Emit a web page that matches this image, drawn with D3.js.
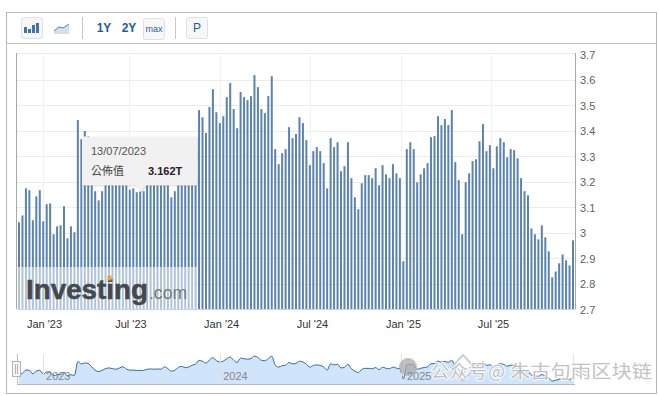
<!DOCTYPE html>
<html>
<head>
<meta charset="utf-8">
<script src="https://cdn.jsdelivr.net/npm/d3@7"></script>
<style>
  html, body { margin: 0; padding: 0; background: #fff; }
  svg { display: block; font-family: "Liberation Sans", Arial, sans-serif; }
</style>
</head>
<body>
<div id="chart"></div>
<script>
// weekly values, the ones behind the tooltip are estimated from the small chart
const values2023 = [3.042, 3.069, 3.175, 3.168, 3.05, 3.144, 3.168, 3.046, 3.113, 3.116, 2.995, 3.026, 3.03, 3.105, 2.979, 3.026, 3.003,
  3.443, 3.368, 3.40, 3.38, 3.28, 3.164, 3.128, 3.164, 3.22, 3.24, 3.22, 3.20, 3.24, 3.28, 3.21, 3.17, 3.175, 3.16, 3.162, 3.164,
  3.20, 3.21, 3.20, 3.21, 3.20, 3.28, 3.22, 3.14, 3.164, 3.26, 3.29, 3.25, 3.27, 3.33, 3.36, 3.482];
const values2024 = [3.454, 3.392, 3.494, 3.564, 3.474, 3.431, 3.458, 3.533, 3.588, 3.486, 3.411, 3.553, 3.533, 3.521, 3.537, 3.619, 3.572,
  3.486, 3.470, 3.537, 3.615, 3.329, 3.270, 3.313, 3.329, 3.415, 3.372, 3.388, 3.454, 3.431, 3.364, 3.266, 3.321, 3.337, 3.321, 3.274,
  3.175, 3.372, 3.337, 3.356, 3.242, 3.262, 3.356, 3.215, 3.140, 3.093, 3.195, 3.227, 3.227, 3.215, 3.254, 3.187, 3.266, 3.230, 3.215, 3.270, 3.234, 3.215];
const values2025 = [2.889, 3.329, 3.356, 3.329, 3.199, 3.230, 3.254, 3.274, 3.376, 3.380, 3.458, 3.423, 3.447, 3.423, 3.482, 3.278, 3.207,
  2.995, 3.199, 3.234, 3.282, 3.289, 3.360, 3.427, 3.321, 3.344, 3.254, 3.340, 3.372, 3.356, 3.297, 3.329, 3.325, 3.293, 3.215, 3.164, 3.148,
  3.018, 2.995, 2.975, 3.030, 2.983, 2.928, 2.826, 2.849, 2.881, 2.916, 2.893, 2.873, 2.971];
const weekly = values2023.concat(values2024, values2025);

const yTicks = [2.7, 2.8, 2.9, 3, 3.1, 3.2, 3.3, 3.4, 3.5, 3.6, 3.7];
const monthLabels = ["Jan '23", "Jul '23", "Jan '24", "Jul '24", "Jan '25", "Jul '25"];
const monthWeeks = [6.94, 31.9, 58.1, 84.3, 110.6, 136.6];
const yearLabels = ["2023", "2024", "2025"];
const yearWeeks = [6.94, 58.1, 110.6];
const tooltipDate = "13/07/2023";
const tooltipName = "公佈值";
const tooltipValue = "3.162T";
const tooltipWeek = 35;

const width = 659, height = 396;
const plot = { left: 17, right: 575, top: 53, bottom: 309 };
const barWidth = 2;

const svg = d3.select('#chart').append('svg')
  .attr('width', width)
  .attr('height', height);

const xScale = d3.scaleLinear().domain([0, weekly.length - 1]).range([19, 573]);
const yScale = d3.scaleLinear().domain([2.7, 3.7]).range([309.5, 54.5]);
const miniY = d3.scaleLinear().domain([2.7, 3.62]).range([385, 356]);

// outer frame and toolbar
svg.append('rect').attr('x', 6.5).attr('y', 12.5).attr('width', 650).attr('height', 381)
  .attr('fill', '#fff').attr('stroke', '#b8b8b8');
svg.append('line').attr('x1', 7).attr('x2', 656).attr('y1', 43.5).attr('y2', 43.5).attr('stroke', '#c4c4c4');

function button(x, y, w, h) {
  svg.append('rect').attr('x', x + .5).attr('y', y + .5).attr('width', w).attr('height', h).attr('rx', 2)
    .attr('fill', '#f7f7f7').attr('stroke', '#e0e0e0');
}
button(21, 17, 21, 21);
button(143, 18, 21, 21);
button(186, 17, 21, 21);

[82, 175].forEach(x => {
  svg.append('line').attr('x1', x + .5).attr('x2', x + .5).attr('y1', 17).attr('y2', 39).attr('stroke', '#c8c8c8');
});

// bar icon
[[24, 27, 3, 6], [28, 29, 3, 4], [32, 25, 3, 8], [36, 23, 3, 10]].forEach(b => {
  svg.append('rect').attr('x', b[0]).attr('y', b[1]).attr('width', b[2]).attr('height', b[3]).attr('fill', '#3f72ab');
});
// area icon
svg.append('path').attr('d', 'M54 34 L54 31 L59 27 L63 28 L69 24 L69 34 Z').attr('fill', '#d5dfea');
svg.append('path').attr('d', 'M54 31 L59 27 L63 28 L69 24').attr('fill', 'none').attr('stroke', '#4f7fb2');

svg.append('text').attr('x', 104).attr('y', 32).attr('text-anchor', 'middle')
  .style('font-size', '12px').style('font-weight', 'bold').attr('fill', '#1f5c9e').text('1Y');
svg.append('text').attr('x', 129).attr('y', 32).attr('text-anchor', 'middle')
  .style('font-size', '12px').style('font-weight', 'bold').attr('fill', '#1f5c9e').text('2Y');
svg.append('text').attr('x', 154).attr('y', 32).attr('text-anchor', 'middle')
  .style('font-size', '9px').attr('fill', '#1f5c9e').text('max');
svg.append('text').attr('x', 197).attr('y', 32).attr('text-anchor', 'middle')
  .style('font-size', '12px').attr('fill', '#1f5c9e').text('P');

// grid
svg.append('line').attr('x1', plot.left).attr('x2', plot.right).attr('y1', plot.top + .5).attr('y2', plot.top + .5)
  .attr('stroke', '#ececec');
svg.append('g').selectAll('line').data(yTicks.slice(0, -1)).enter().append('line')
  .attr('x1', plot.left).attr('x2', plot.right)
  .attr('y1', d => Math.floor(yScale(d)) + .5).attr('y2', d => Math.floor(yScale(d)) + .5)
  .attr('stroke', '#ececec');
svg.append('g').selectAll('line').data(monthWeeks).enter().append('line')
  .attr('x1', d => Math.floor(xScale(d)) + .5).attr('x2', d => Math.floor(xScale(d)) + .5)
  .attr('y1', plot.top).attr('y2', plot.bottom)
  .attr('stroke', '#f0f0f0');

// bars
svg.selectAll('.bar').data(weekly).enter().append('rect')
  .attr('class', 'bar')
  .attr('x', (d, i) => xScale(i) - barWidth / 2)
  .attr('y', d => yScale(d))
  .attr('width', barWidth)
  .attr('height', d => yScale(2.7) - yScale(d))
  .attr('fill', '#5b83b0');

// axis lines
svg.append('line').attr('x1', plot.left - .5).attr('x2', plot.left - .5).attr('y1', plot.top).attr('y2', plot.bottom)
  .attr('stroke', '#a8a8a8');
svg.append('line').attr('x1', plot.right + .5).attr('x2', plot.right + .5).attr('y1', plot.top).attr('y2', plot.bottom)
  .attr('stroke', '#a8a8a8');
svg.append('line').attr('x1', plot.left).attr('x2', plot.right).attr('y1', plot.bottom + .5).attr('y2', plot.bottom + .5)
  .attr('stroke', '#c8d3e0');

const yAxis = svg.append('g')
  .attr('transform', `translate(${plot.right},0)`)
  .call(d3.axisRight(yScale).tickValues(yTicks).tickSize(0).tickPadding(5).tickFormat(d3.format('~g')));
yAxis.select('.domain').remove();
yAxis.selectAll('text').style('font-size', '11px').style('font-family', '"Liberation Sans", Arial, sans-serif').attr('fill', '#606060');

const xAxis = svg.append('g')
  .attr('transform', `translate(1,${plot.bottom})`)
  .call(d3.axisBottom(xScale).tickValues(monthWeeks).tickSize(0).tickPadding(11).tickFormat((d, i) => monthLabels[i]));
xAxis.select('.domain').remove();
xAxis.selectAll('text').style('font-size', '11px').style('font-family', '"Liberation Sans", Arial, sans-serif').attr('fill', '#333');

// investing.com watermark
svg.append('rect').attr('x', plot.left).attr('y', 267).attr('width', 180).attr('height', 42)
  .attr('fill', '#fff').attr('opacity', .52);
svg.append('text').attr('x', 26).attr('y', 299).attr('textLength', 122).attr('lengthAdjust', 'spacingAndGlyphs')
  .style('font-size', '28px').style('font-weight', 'bold').attr('fill', '#45484c')
  .attr('stroke', '#45484c').attr('stroke-width', .5).text('Investing');
svg.append('text').attr('x', 149).attr('y', 299).attr('textLength', 38).attr('lengthAdjust', 'spacingAndGlyphs')
  .style('font-size', '18px').attr('fill', '#75797e').text('.com');
svg.append('rect').attr('x', 107.5).attr('y', 275.5).attr('width', 4).attr('height', 5).attr('fill', '#e8a33d');

// tooltip
const tipX = xScale(tooltipWeek);
const tip = svg.append('g');
tip.append('path')
  .attr('d', `M82 136.5 H197 V185.5 H${tipX + 6} L${tipX} 191.5 L${tipX - 6} 185.5 H82 Z`)
  .attr('fill', '#000').attr('opacity', .12).attr('transform', 'translate(1,1)');
tip.append('path')
  .attr('d', `M82 136.5 H197 V185.5 H${tipX + 6} L${tipX} 191.5 L${tipX - 6} 185.5 H82 Z`)
  .attr('fill', '#f1f1f1');
tip.append('text').attr('x', 91).attr('y', 155).style('font-size', '11px').attr('fill', '#555').text(tooltipDate);
tip.append('text').attr('x', 91).attr('y', 175).style('font-size', '11px')
  .style('font-family', '"Noto Sans CJK TC"').attr('fill', '#444').text(tooltipName);
tip.append('text').attr('x', 148).attr('y', 175).style('font-size', '11px').style('font-weight', 'bold')
  .attr('fill', '#222').text(tooltipValue);

// small chart under the plot
const miniArea = d3.area().x((d, i) => xScale(i)).y0(385).y1(d => miniY(d)).curve(d3.curveMonotoneX);
const miniLine = d3.line().x((d, i) => xScale(i)).y(d => miniY(d)).curve(d3.curveMonotoneX);
svg.append('path').datum(weekly).attr('d', miniArea).attr('fill', '#d0e4fc');
svg.append('path').datum(weekly).attr('d', miniLine).attr('fill', 'none').attr('stroke', '#2b6cb0').attr('stroke-width', 1);

svg.append('g').selectAll('line').data(yearWeeks.concat([weekly.length - 1])).enter().append('line')
  .attr('x1', d => Math.floor(xScale(d)) + .5).attr('x2', d => Math.floor(xScale(d)) + .5)
  .attr('y1', 354).attr('y2', 385).attr('stroke', '#e2e2e2');
svg.append('line').attr('x1', 17.5).attr('x2', 17.5).attr('y1', 354).attr('y2', 385).attr('stroke', '#c0c0c0');
svg.append('line').attr('x1', 17).attr('x2', 575).attr('y1', 384.5).attr('y2', 384.5).attr('stroke', '#b8b8b8');

// wechat style stamp, sits over the small chart
svg.append('circle').attr('cx', 408).attr('cy', 367).attr('r', 9).attr('fill', '#a8a8a8').attr('opacity', .75);
svg.append('path').attr('d', 'M463 355 L475 368 L463 381 L451 368 Z')
  .attr('fill', '#fff').attr('fill-opacity', .55).attr('stroke', '#cfcfcf').attr('stroke-width', 2);
svg.append('text').attr('x', 431).attr('y', 378).attr('textLength', 74)
  .style('font-size', '18px').style('font-family', '"Noto Sans CJK SC"')
  .attr('fill', '#bdbdbd').attr('stroke', '#fff').attr('stroke-width', 2).style('paint-order', 'stroke')
  .attr('opacity', .9).text('公众号@');
svg.append('text').attr('x', 510).attr('y', 378).attr('textLength', 142).attr('lengthAdjust', 'spacingAndGlyphs')
  .style('font-size', '18px').style('font-family', '"Noto Sans CJK SC"')
  .attr('fill', '#bdbdbd').attr('stroke', '#fff').attr('stroke-width', 2).style('paint-order', 'stroke')
  .attr('opacity', .9).text('朱古句雨区块链');

svg.append('g').selectAll('text').data(yearLabels).enter().append('text')
  .attr('x', (d, i) => xScale(yearWeeks[i]) + 3 + (i === 2 ? 2 : 0))
  .attr('y', 380)
  .style('font-size', '11px').attr('fill', '#888').text(d => d);

// navigator handle
svg.append('rect').attr('x', 12.5).attr('y', 361.5).attr('width', 8).attr('height', 15)
  .attr('fill', '#f4f4f4').attr('stroke', '#b4b4b4');
[15.5, 17.5].forEach(x => {
  svg.append('line').attr('x1', x).attr('x2', x).attr('y1', 364).attr('y2', 374).attr('stroke', '#b4b4b4');
});
</script>
</body>
</html>
